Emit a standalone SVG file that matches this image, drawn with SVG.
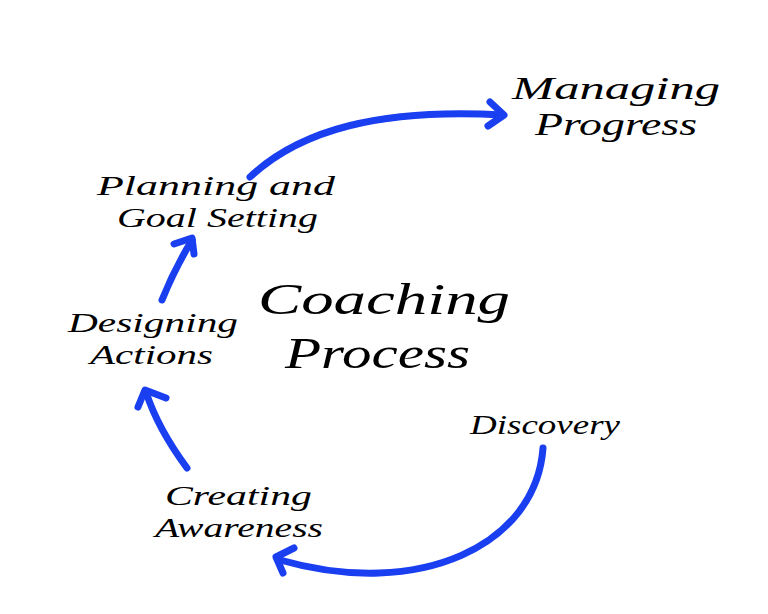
<svg xmlns="http://www.w3.org/2000/svg" width="768" height="614" viewBox="0 0 768 614">
<style>
.t{font-family:"Liberation Serif","DejaVu Serif",serif;font-style:italic;fill:#000;}
.s{font-size:27px;}
.m{font-size:32px;}
.l{font-size:45px;}
.a{fill:none;stroke:#1a3ff0;stroke-width:7;stroke-linecap:round;stroke-linejoin:round;}
</style>
<rect width="768" height="614" fill="#fff"/>
<g id="connectors">
<path class="a" d="M250,177 C300,130 380,108 503,115"/>
<path class="a" d="M490,102 L504,115 L488,126"/>
<path class="a" d="M162,300 C170,280 180,260 192,240"/>
<path class="a" d="M174,244 L192,238 L194,254"/>
<path class="a" d="M187,468 C170,445 155,420 146,392"/>
<path class="a" d="M138,407 L145,390 L166,398"/>
<path class="a" d="M543,448 C536,545 420,600 280,560"/>
<path class="a" d="M294,548 L276,557 L283,573"/>
</g>
<g id="managing-progress">
<text class="t m" x="512" y="99" textLength="208" lengthAdjust="spacingAndGlyphs">Managing</text>
<text class="t m" x="535" y="135" textLength="162" lengthAdjust="spacingAndGlyphs">Progress</text>
</g>
<g id="planning">
<text class="t s" x="97" y="195" textLength="238" lengthAdjust="spacingAndGlyphs">Planning and</text>
<text class="t s" x="117" y="227" textLength="201" lengthAdjust="spacingAndGlyphs">Goal Setting</text>
</g>
<g id="designing">
<text class="t s" x="68" y="332" textLength="170" lengthAdjust="spacingAndGlyphs">Designing</text>
<text class="t s" x="90" y="364" textLength="123" lengthAdjust="spacingAndGlyphs">Actions</text>
</g>
<g id="coaching">
<text class="t l" x="258" y="314" textLength="252" lengthAdjust="spacingAndGlyphs">Coaching</text>
<text class="t l" x="285" y="368" textLength="185" lengthAdjust="spacingAndGlyphs">Process</text>
</g>
<g id="discovery">
<text class="t s" x="470" y="434" textLength="150" lengthAdjust="spacingAndGlyphs">Discovery</text>
</g>
<g id="creating">
<text class="t s" x="165" y="505" textLength="147" lengthAdjust="spacingAndGlyphs">Creating</text>
<text class="t s" x="155" y="537" textLength="168" lengthAdjust="spacingAndGlyphs">Awareness</text>
</g>
</svg>
